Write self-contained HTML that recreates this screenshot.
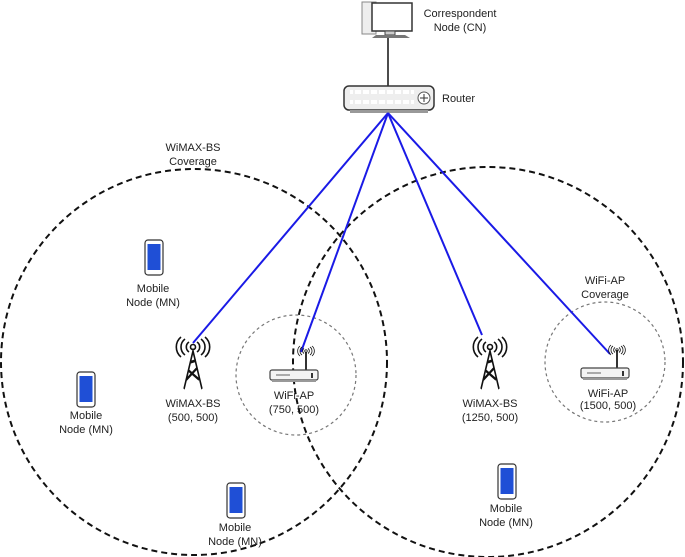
<!DOCTYPE html>
<html><head><meta charset="utf-8"><style>html,body{margin:0;padding:0;background:#fff}svg{display:block}text{font-family:"Liberation Sans",sans-serif;font-size:11px;fill:#222}</style></head><body>
<svg width="685" height="557" viewBox="0 0 685 557" xmlns="http://www.w3.org/2000/svg">
<defs>
<g id="phone"><rect x="0" y="0" width="18" height="35" rx="3" fill="#fff" stroke="#333" stroke-width="1.2"/><rect x="2.5" y="4" width="13" height="26" fill="#1f4fd6"/></g>
<g id="tower" fill="none" stroke="#111" stroke-width="1.5">
<path d="M0,20 L9,0 L18,20 M2.5,15 L13,9 M4,10 L15,15 M6,6 L12,5"/>
</g>
<g id="waves" fill="none" stroke="#111" stroke-width="1.6">
<path d="M-4,-5 a6,6 0 0 0 0,10 M4,-5 a6,6 0 0 1 0,10 M-8,-8 a10,10 0 0 0 0,16 M8,-8 a10,10 0 0 1 0,16 M-12,-10 a13,13 0 0 0 0,20 M12,-10 a13,13 0 0 1 0,20"/>
<circle cx="0" cy="0" r="2.5"/>
</g>
<g id="ap">
<line x1="36" y1="-16" x2="36" y2="2" stroke="#333" stroke-width="2"/>
<rect x="0" y="2" width="48" height="10" rx="2" fill="#f3f3f3" stroke="#444" stroke-width="1.2"/>
<rect x="2" y="12" width="44" height="2" fill="#999"/>
<rect x="6" y="6" width="14" height="2" fill="#aaa"/>
<rect x="41" y="5" width="2" height="5" fill="#333"/>
</g>
</defs>
<circle cx="194" cy="362" r="193" fill="none" stroke="#111" stroke-width="2" stroke-dasharray="6,4"/>
<circle cx="488" cy="362" r="195" fill="none" stroke="#111" stroke-width="2" stroke-dasharray="6,4"/>
<circle cx="296" cy="375" r="60" fill="none" stroke="#777" stroke-width="1.2" stroke-dasharray="3,3"/>
<circle cx="605" cy="362" r="60" fill="none" stroke="#777" stroke-width="1.2" stroke-dasharray="3,3"/>
<rect x="362" y="2" width="14" height="32" fill="#eee" stroke="#888"/>
<rect x="372" y="3" width="40" height="28" fill="#fff" stroke="#333" stroke-width="1.5"/>
<rect x="385" y="31" width="10" height="4" fill="#ccc" stroke="#444"/>
<path d="M376,35 L405,35 L410,38 L372,38 Z" fill="#777"/>
<line x1="388" y1="38" x2="388" y2="86" stroke="#111" stroke-width="1.5"/>
<rect x="344" y="86" width="90" height="24" rx="5" fill="#eee" stroke="#333" stroke-width="1.5"/>
<rect x="350" y="110" width="78" height="3" fill="#999"/>
<g fill="#fff"><rect x="350" y="90" width="64" height="4"/><rect x="350" y="100" width="64" height="4"/></g>
<g stroke="#eee" stroke-width="2"><path d="M354,89 v8 M362,89 v8 M370,89 v8 M378,89 v8 M386,89 v8 M394,89 v8 M402,89 v8 M410,89 v8 M354,99 v8 M362,99 v8 M370,99 v8 M378,99 v8 M386,99 v8 M394,99 v8 M402,99 v8 M410,99 v8"/></g>
<circle cx="424" cy="98" r="6" fill="#fff" stroke="#555"/>
<path d="M420,98 h8 M424,94 v8" stroke="#333" stroke-width="1"/>
<text x="442" y="102">Router</text>
<text x="460" y="17" text-anchor="middle">Correspondent</text>
<text x="460" y="31" text-anchor="middle">Node (CN)</text>
<g stroke="#1a1ae6" stroke-width="2">
<line x1="388" y1="113" x2="193" y2="343"/>
<line x1="388" y1="113" x2="301" y2="352"/>
<line x1="388" y1="113" x2="482" y2="335"/>
<line x1="388" y1="113" x2="610" y2="354"/>
</g>
<use href="#waves" x="193" y="347"/>
<g transform="translate(184,351) scale(1,1.9)"><use href="#tower"/></g>
<use href="#waves" x="490" y="347"/>
<g transform="translate(481,351) scale(1,1.9)"><use href="#tower"/></g>
<use href="#ap" x="270" y="368"/>
<g transform="translate(306,351) scale(0.5)"><use href="#waves"/></g>
<use href="#ap" x="581" y="366"/>
<g transform="translate(617,350) scale(0.5)"><use href="#waves"/></g>
<use href="#phone" x="145" y="240"/>
<use href="#phone" x="77" y="372"/>
<use href="#phone" x="227" y="483"/>
<use href="#phone" x="498" y="464"/>
<g text-anchor="middle">
<text x="193" y="151">WiMAX-BS</text><text x="193" y="165">Coverage</text>
<text x="153" y="292">Mobile</text><text x="153" y="306">Node (MN)</text>
<text x="86" y="419">Mobile</text><text x="86" y="433">Node (MN)</text>
<text x="235" y="531">Mobile</text><text x="235" y="545">Node (MN)</text>
<text x="506" y="512">Mobile</text><text x="506" y="526">Node (MN)</text>
<text x="193" y="407">WiMAX-BS</text><text x="193" y="421">(500, 500)</text>
<text x="294" y="399">WiFi-AP</text><text x="294" y="413">(750, 500)</text>
<text x="490" y="407">WiMAX-BS</text><text x="490" y="421">(1250, 500)</text>
<text x="605" y="284">WiFi-AP</text><text x="605" y="298">Coverage</text>
<text x="608" y="397">WiFi-AP</text><text x="608" y="409">(1500, 500)</text>
</g>
</svg>
</body></html>
